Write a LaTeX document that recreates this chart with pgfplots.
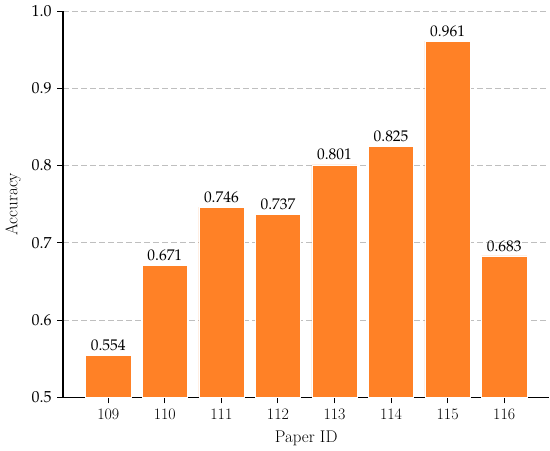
\documentclass[border=0pt]{standalone}
\usepackage{mathpazo}
\usepackage{pgfplots}
\pgfplotsset{compat=1.18}
\definecolor{barorange}{RGB}{255,129,38}
\begin{document}
\fontsize{16}{19}\selectfont
\begin{tikzpicture}
\begin{axis}[
  scale only axis,
  width=486bp, height=386bp,
  xmin=-0.8, xmax=7.8,
  ymin=0.5, ymax=1.0,
  ytick={0.5,0.6,...,1.0},
  yticklabel style={/pgf/number format/fixed,/pgf/number format/precision=1,/pgf/number format/fixed zerofill},
  xtick={0,1,2,3,4,5,6,7},
  xticklabels={109,110,111,112,113,114,115,116},
  axis x line*=bottom, axis y line*=left,
  axis line style={line width=1.2pt,-},
  tick style={line width=1pt,black},
  tick align=outside,
  major tick length=6bp,
  ymajorgrids,
  grid style={dash pattern=on 6bp off 3bp,black!25,line width=1pt},
  xlabel={Paper ID}, ylabel={Accuracy},
  tick label style={font=\fontsize{16}{19}\selectfont},
  label style={font=\fontsize{17}{20}\selectfont},
  ybar, bar width=0.8,
  bar shift=0pt,
  nodes near coords,
  nodes near coords style={font=\fontsize{15.5}{18}\selectfont,/pgf/number format/fixed,/pgf/number format/precision=3,/pgf/number format/fixed zerofill, yshift=-1pt},
]
\addplot[fill=barorange, draw=white, line width=0.5pt] coordinates {
(0,0.554) (1,0.671) (2,0.746) (3,0.737) (4,0.801) (5,0.825) (6,0.961) (7,0.683)};
\end{axis}
\end{tikzpicture}
\end{document}
